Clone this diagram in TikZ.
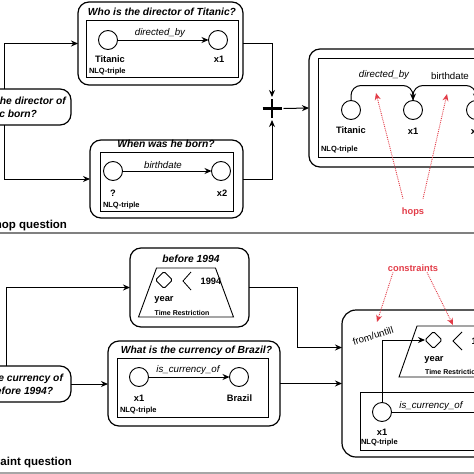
\documentclass[tikz,border=0pt]{standalone}
\usepackage{fontspec}
\setmainfont{Liberation Sans}
\usetikzlibrary{arrows.meta,shapes.geometric}
\definecolor{hopred}{RGB}{226,60,72}

\begin{document}
\begin{tikzpicture}[x=1pt, y=-1pt,
  every node/.style={inner sep=0pt, outer sep=0pt},
  qbox/.style={draw, rounded corners=11pt, line width=1.2pt},
  tbox/.style={draw, line width=0.9pt},
  ent/.style={draw, circle, minimum size=19pt, line width=0.9pt},
  qtext/.style={font=\fontsize{10.3}{13}\selectfont\bfseries\itshape, align=center},
  lbl/.style={font=\fontsize{9.3}{11}\selectfont\bfseries},
  tag/.style={font=\fontsize{7.5}{9}\selectfont\bfseries, anchor=west},
  rel/.style={font=\fontsize{9.7}{11}\selectfont\itshape},
  up/.style={font=\fontsize{9.7}{11}\selectfont},
  note/.style={font=\fontsize{9.3}{11}\selectfont\bfseries, text=hopred},
  secname/.style={font=\fontsize{11.5}{13}\selectfont\bfseries, anchor=east},
  arr/.style={-{Stealth[length=7pt,width=6pt]}, line width=1pt},
  hop/.style={-{Stealth[length=7pt,width=6pt]}, hopred, densely dotted, line width=0.9pt},
  trap/.style={draw, trapezium, trapezium left angle=73, trapezium right angle=73,
    trapezium stretches=true, inner sep=2pt, line width=0.9pt},
  dia/.style={draw, diamond, minimum size=17pt, inner sep=1pt, rounded corners=1.5pt, line width=0.9pt}]

\useasboundingbox (0,0) rectangle (474,474);
\clip (0,0) rectangle (474,474);

% multi-hop question
\node[qbox, qtext, minimum width=133pt, minimum height=36pt] (q1) at (4.5,107) {When was the director of\\Titanic born?};

\node[qbox, minimum width=165pt, minimum height=83pt] (b1) at (160.5,43.5) {};
\node[qtext] (b1t) at (162,12) {Who is the director of Titanic?};
\node[tbox, minimum width=152pt, minimum height=57pt] (t1) at (162,48.5) {};
\node[ent] (e11) at (108,40) {};
\node[ent] (e12) at (218,40) {};
\draw[arr] (e11) -- (e12);
\node[rel] (r1) at (160,33) {directed\_by};
\node[lbl] (l11) at (110,59) {Titanic};
\node[lbl] (l12) at (219,59) {x1};
\node[tag] (g1) at (89,72) {NLQ-triple};

\node[qbox, minimum width=153pt, minimum height=78pt] (b2) at (166.5,179) {};
\node[qtext] (b2t) at (166,144) {When was he born?};
\node[tbox, minimum width=133pt, minimum height=59pt] (t2) at (166.5,181.5) {};
\node[ent] (e21) at (113,171) {};
\node[ent] (e22) at (221,171) {};
\draw[arr] (e21) -- (e22);
\node[rel] (r2) at (163,165) {birthdate};
\node[lbl] (l21) at (113,193) {?};
\node[lbl] (l22) at (222,193) {x2};
\node[tag] (g2) at (103,206) {NLQ-triple};

\draw[arr] (q1.north) |- (b1.west);
\draw[arr] (q1.south) |- (b2.west);

\node[minimum size=19pt] (plus) at (272,108.5) {};
\draw[line width=2.8pt] (plus.west) -- (plus.east) (plus.north) -- (plus.south);
\draw[arr] (b1.east) -| ([yshift=2pt]plus.north);
\draw[arr] (b2.east) -| ([yshift=-2pt]plus.south);

\node[qbox, minimum width=291pt, minimum height=118pt] (b3) at (454.5,108) {};
\node[tbox, minimum width=272pt, minimum height=99pt] (t3) at (454,107.5) {};
\draw[arr] ([xshift=2pt]plus.east) -- (b3.west);
\node[ent] (e31) at (351,110) {};
\node[ent] (e32) at (413,110) {};
\node[ent] (e33) at (476,110) {};
\draw[arr, rounded corners=10pt] (e31.north) -- ++(0,-15) -| (e32.north);
\draw[arr, rounded corners=10pt] (e32.north) -- ++(0,-15) -| (e33.north);
\node[rel] (r31) at (384,75) {directed\_by};
\node[up] (r32) at (450,76) {birthdate};
\node[lbl] (l31) at (351,130) {Titanic};
\node[lbl] (l32) at (413,131) {x1};
\node[lbl] (l33) at (476,131) {x2};
\node[tag] (g3) at (321,150) {NLQ-triple};

\node[note] (hops) at (413,212) {hops};
\coordinate (h1) at (376,93);
\coordinate (h2) at (447,94);
\draw[hop] ([xshift=-10pt,yshift=9pt]hops.north) -- (h1);
\draw[hop] ([xshift=10pt,yshift=9pt]hops.north) -- (h2);

\draw[gray, line width=1.5pt] (0,233) -- (474,233);
\node[secname] (sec1) at (67,226) {Multi-hop question};

% constraint question
\node[qbox, qtext, minimum width=130pt, minimum height=36pt] (q2) at (6,384) {What is the currency of\\Brazil before 1994?};

\node[qbox, minimum width=119pt, minimum height=79pt] (b4) at (189.5,287.5) {};
\node[qtext] (b4t) at (191,259) {before 1994};
\node[trap, minimum width=95pt, minimum height=49pt] (tr4) at (186,292.5) {};
\node[dia] (d4) at (164,280) {};
\draw[line width=0.8pt] (191,272) -- (183,281) -- (191,290);
\node[lbl] (y4) at (211,281) {1994};
\node[lbl] (l4) at (164,300) {year};
\node[font=\fontsize{7}{8}\selectfont\bfseries] (n4) at (182,313) {Time Restriction};

\node[qbox, minimum width=172pt, minimum height=85pt] (b5) at (194,383.5) {};
\node[qtext] (b5t) at (196.5,351) {What is the currency of Brazil?};
\node[tbox, minimum width=151pt, minimum height=59pt] (t5) at (192.5,387.5) {};
\node[ent] (e51) at (139,377) {};
\node[ent] (e52) at (239,377) {};
\draw[arr] (e51) -- (e52);
\node[rel] (r5) at (188,370) {is\_currency\_of};
\node[lbl] (l51) at (139,398) {x1};
\node[lbl] (l52) at (239.5,398) {Brazil};
\node[tag] (g5) at (120,411) {NLQ-triple};

\draw[arr] (q2.north) |- (b4.west);
\draw[arr] (q2.east) -- (q2.east -| b5.west);

\node[qbox, rounded corners=14pt, minimum width=258pt, minimum height=147pt] (b6) at (471,383.5) {};
\draw[arr] (b4.east) -- ++(48,0) |- ([yshift=36pt]b6.west);
\draw[arr] (b5.east) -- (b5.east -| b6.west);
\node[trap, minimum width=95pt, minimum height=51pt] (tr6) at (446.5,351.5) {};
\node[dia] (d6) at (433.5,340) {};
\draw[line width=0.8pt] (462,332) -- (453,341) -- (462,350);
\node[lbl] (y6) at (482,341) {1994};
\node[lbl] (l6) at (434,360) {year};
\node[font=\fontsize{7}{8}\selectfont\bfseries] (n6) at (452.5,372) {Time Restriction};
\node[up, rotate=18] (fu) at (373,336) {from/untill};
\node[tbox, minimum width=230pt, minimum height=58pt] (t6) at (475,421) {};
\node[ent] (e61) at (382,412) {};
\coordinate (e62) at (500,412);
\draw[arr] (e61) -- (e62);
\draw[arr] (e61.north) |- (d6.west);
\node[rel] (r6) at (431,406) {is\_currency\_of};
\node[lbl] (l61) at (382,432) {x1};
\node[tag] (g6) at (361,443) {NLQ-triple};

\node[note] (cons) at (413,268) {constraints};
\coordinate (c1) at (377,322);
\coordinate (c2) at (453,325);
\draw[hop] ([xshift=-20pt,yshift=-1pt]cons.south) -- (c1);
\draw[hop] ([xshift=14pt,yshift=-1pt]cons.south) -- (c2);

\draw[gray!70, line width=3pt] (0,473) -- (474,473);
\node[secname] (sec2) at (72,463) {Constraint question};
\end{tikzpicture}
\end{document}
